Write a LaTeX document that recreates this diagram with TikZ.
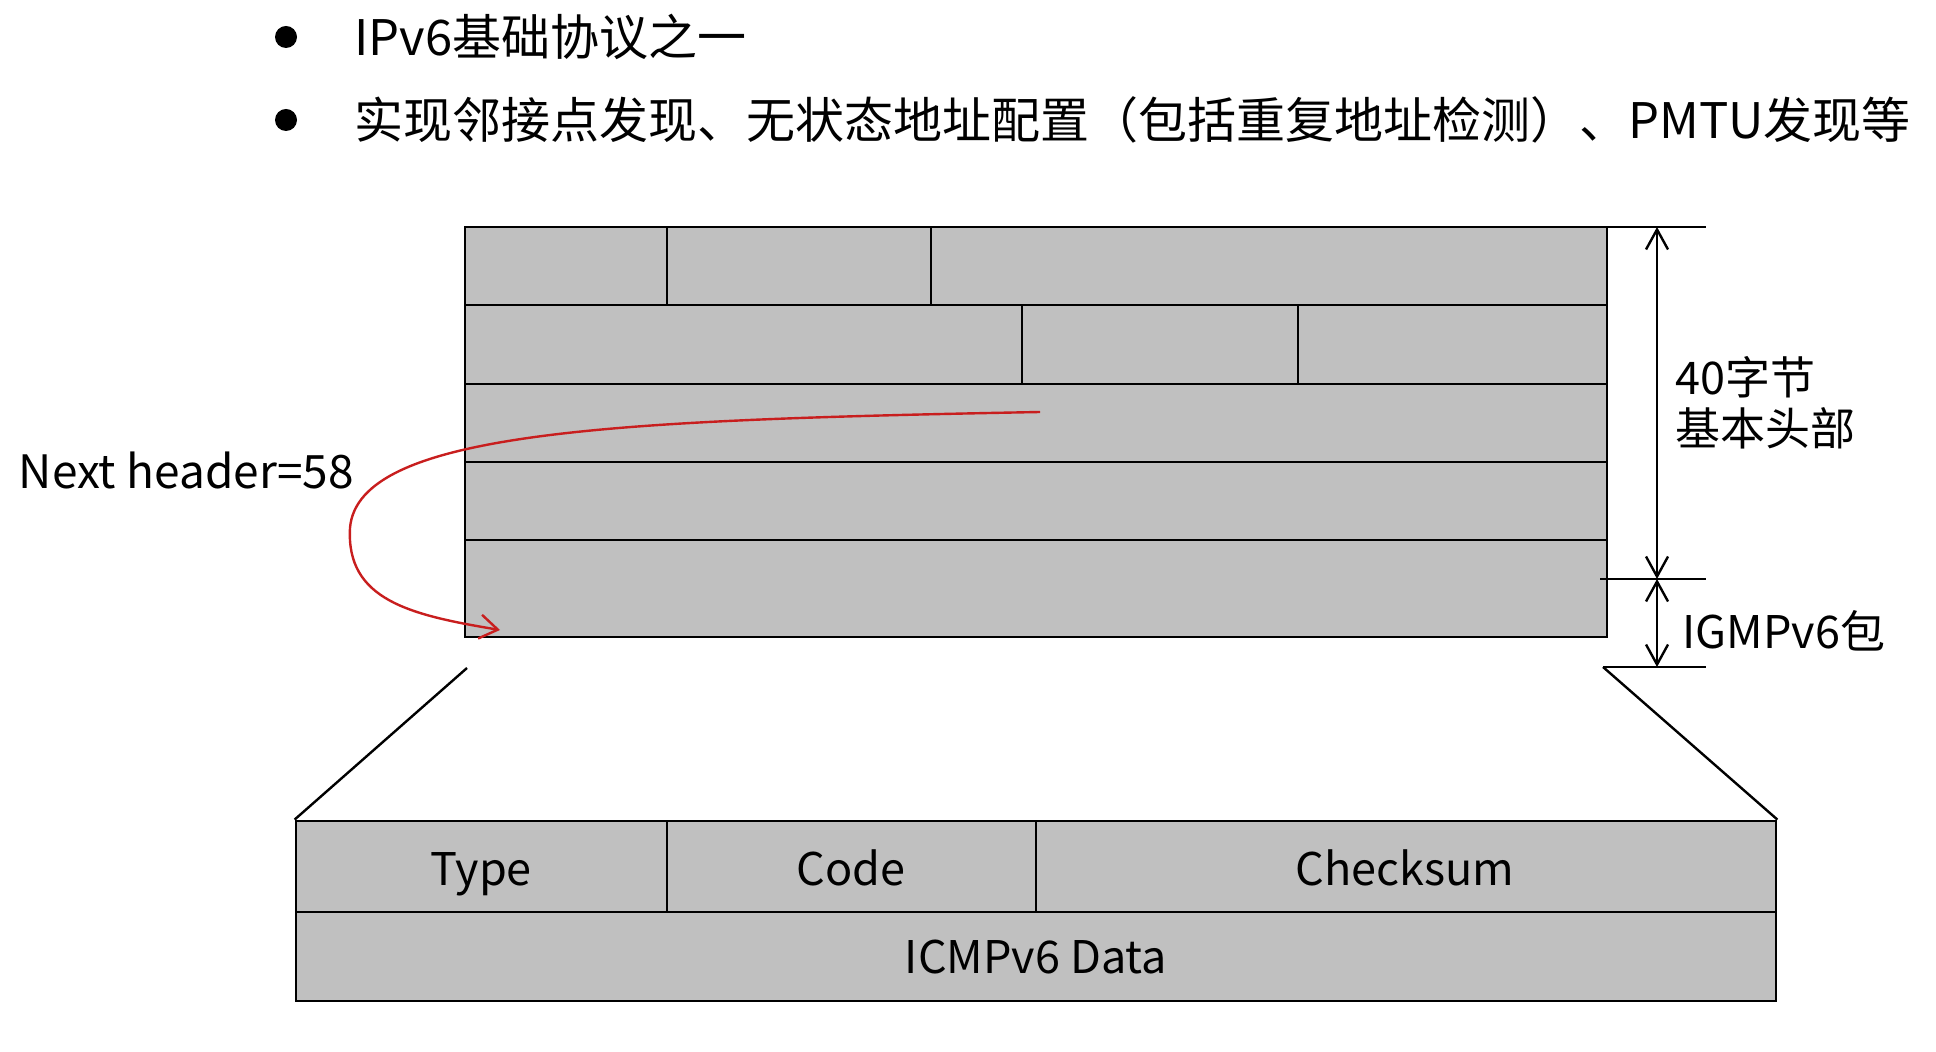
\documentclass[tikz,border=0pt]{standalone}
\usepackage{fontspec}
\setmainfont{Noto Sans CJK SC}
\usetikzlibrary{arrows.meta,fit}
\definecolor{cellgray}{RGB}{192,192,192}
\definecolor{curvered}{RGB}{200,30,30}
\begin{document}
\begin{tikzpicture}[x=0.5pt,y=-0.5pt,
  field/.style={draw=black, fill=cellgray, line width=1.4pt, inner sep=0pt},
  lbl/.style={font=\fontsize{22.5pt}{27pt}\selectfont, inner sep=0pt},
  bultext/.style={font=\fontsize{24.5pt}{30pt}\selectfont, inner sep=0pt, anchor=base west},
  bulletdot/.style={circle, fill=black, inner sep=0pt, minimum size=11pt},
  dimline/.style={line width=1.2pt},
  dimarrow/.style={line width=1.2pt, {Straight Barb[length=10pt,width=11pt]}-{Straight Barb[length=10pt,width=11pt]}},
  nharrow/.style={draw=curvered, line width=1.2pt, -{Straight Barb[length=9pt,width=12pt]}}
  ]
\useasboundingbox (0,0) rectangle (1936,1052);

% bullets
\node[bulletdot] (b1) at (286,37) {};
\node[bultext] (t1) at (354,56) {IPv6基础协议之一};
\node[bulletdot] (b2) at (286,120) {};
\node[bultext] (t2) at (354,139) {实现邻接点发现、无状态地址配置（包括重复地址检测）、PMTU发现等};

% IPv6 basic header
\node[field, fit={(465,227)(667,305)}] (r1a) {};
\node[field, fit={(667,227)(931,305)}] (r1b) {};
\node[field, fit={(931,227)(1607,305)}] (r1c) {};
\node[field, fit={(465,305)(1022,384)}] (r2a) {};
\node[field, fit={(1022,305)(1298,384)}] (r2b) {};
\node[field, fit={(1298,305)(1607,384)}] (r2c) {};
\node[field, fit={(465,384)(1607,462)}] (r3) {};
\node[field, fit={(465,462)(1607,540)}] (r4) {};
\node[field, fit={(465,540)(1607,637)}] (r5) {};

% dimension lines
\coordinate (tk1a) at (1607,227);
\coordinate (tk1b) at (1706,227);
\coordinate (tk2a) at (1600,579);
\coordinate (tk2b) at (1706,579);
\coordinate (tk3a) at (1603,667);
\coordinate (tk3b) at (1706,667);
\coordinate (d1) at (1657,227);
\coordinate (d2) at (1657,579);
\coordinate (d3) at (1657,667);
\draw[dimline] (tk1a) -- (tk1b);
\draw[dimline] (tk2a) -- (tk2b);
\draw[dimline] (tk3a) -- (tk3b);
\draw[dimarrow] (d1) -- (d2);
\draw[dimarrow] (d2) -- (d3);
\node[lbl, anchor=base west] (l40) at (1675,395) {40字节};
\node[lbl, anchor=base west] (lbase) at (1675,446) {基本头部};
\node[lbl, anchor=base west] (ligmp) at (1682,648) {IGMPv6包};

% Next header label and curve
\node[lbl, anchor=base east, font=\fontsize{23pt}{27pt}\selectfont] (nh) at (354,489) {Next header=58};
\coordinate (nhsrc) at (1040,412);
\coordinate (nhturn) at (350,528);
\coordinate (nhdst) at (500,630);
\draw[nharrow] (nhsrc) .. controls (620,420) and (358,430) .. (nhturn)
   .. controls (346,600) and (410,615) .. (nhdst);

% ICMPv6 message
\node[field, fit={(296,821)(667,912)}] (type) {};
\node[field, fit={(667,821)(1036,912)}] (code) {};
\node[field, fit={(1036,821)(1776,912)}] (cks) {};
\node[field, fit={(296,912)(1776,1001)}] (data) {};
\node[lbl, anchor=base] at (481,885) {Type};
\node[lbl, anchor=base] at (851,885) {Code};
\node[lbl, anchor=base] at (1405,885) {Checksum};
\node[lbl, anchor=base] at (1036,973) {ICMPv6 Data};

% expansion lines
\coordinate (ex1) at (467,668);
\draw[line width=1.2pt] (ex1) -- (type.north west);
\draw[line width=1.2pt] (tk3a) -- (cks.north east);
\end{tikzpicture}
\end{document}
